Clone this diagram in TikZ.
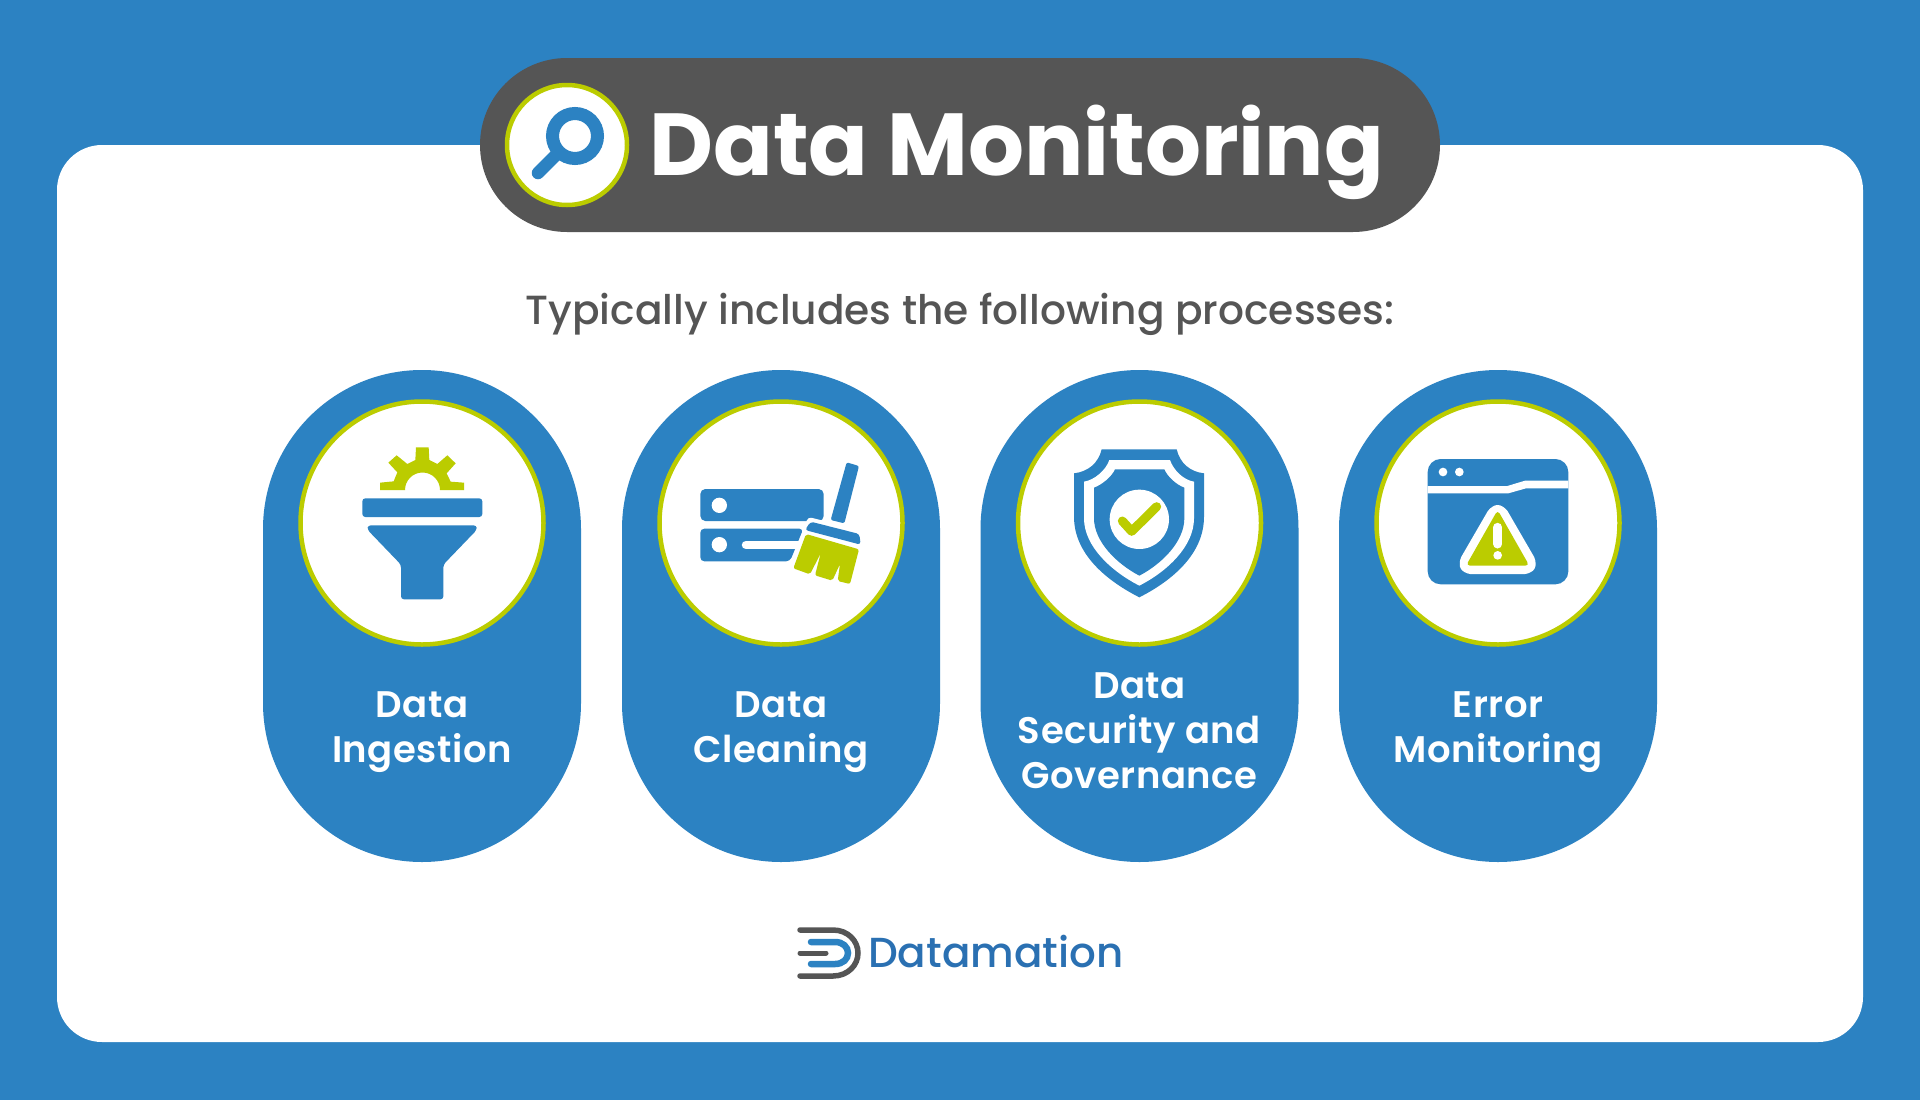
\documentclass[tikz,border=0pt]{standalone}
\usepackage{fontspec}
\setmainfont{Poppins}
\newfontfamily\headfont[LetterSpace=1.5]{Poppins SemiBold}
\newfontfamily\midfont{Poppins Medium}
\usepackage{tikz}
\definecolor{dmblue}{HTML}{2C82C2}
\definecolor{dmgreen}{HTML}{BBCC00}
\definecolor{dmgray}{HTML}{555555}
\definecolor{dmlogo}{HTML}{2A70B2}
\tikzset{
  ringdisc/.style={fill=white,draw=dmgreen,line width=4.5pt},
  steplabel/.style={text=white,font=\headfont\fontsize{37}{45}\selectfont,align=center,anchor=center},
  bluefill/.style={fill=dmblue},
  greenfill/.style={fill=dmgreen},
  whitefill/.style={fill=white},
}

\begin{document}
\begin{tikzpicture}[x=1pt, y=-1pt]
      % page and panel
      \fill[dmblue] (0,0) rectangle (1920,1100);
      \fill[white,rounded corners=45pt] (57,145) rectangle (1863,1042);
      \fill[dmgray,rounded corners=87pt] (480,58) rectangle (1440,232);
      \node[ringdisc,circle,minimum size=120pt,inner sep=0pt] (lens) at (567,145) {};
      \draw[dmblue,line width=12.5pt,line cap=round] (575,136) -- (538,173);
      \draw[dmblue,line width=13pt,fill=white] (575,136) circle[radius=22.5];
      \node[text=white,font=\bfseries\fontsize{88}{88}\selectfont,anchor=base west] (title) at (646,175) {Data Monitoring};
      \node[text=dmgray,font=\midfont\fontsize{40.7}{40.7}\selectfont,anchor=base] (subtitle) at (960,324) {Typically includes the following processes:};
      % pills
      \foreach \cx/\lbl/\ly/\nm in {422/{Data\\Ingestion}/732/ingest, 781/{Data\\Cleaning}/732/clean,
          1139.5/{Data\\Security and\\Governance}/731/secure, 1498/{Error\\Monitoring}/732/error} {
        \fill[dmblue,rounded corners=159pt] (\cx-159,370) rectangle (\cx+159,862);
        \node[ringdisc,circle,minimum size=243pt,inner sep=0pt] (disc\nm) at (\cx,523) {};
        \node[steplabel] (label\nm) at (\cx,\ly) {\lbl};
      }
      % funnel icon
      \begin{scope}[shift={(290,390)},scale=1/3]
        \fill[greenfill] (270,300) -- (270,278) -- (311,274) -- (322,247) -- (295,218) -- (320,196) -- (352,222)
          -- (376,210) -- (378,172) -- (416,172) -- (418,210) -- (442,222) -- (472,196) -- (497,220) -- (470,250)
          -- (482,275) -- (522,278) -- (522,300) -- (450,300) arc[start angle=0,end angle=-180,radius=52.5] -- cycle;
        \fill[bluefill,rounded corners=3pt] (217,325) rectangle (577,381);
        \fill[bluefill,rounded corners=3pt] (233,406) -- (560,406) -- (560,420) -- (460,524) -- (460,628)
          -- (333,628) -- (333,524) -- (233,420) -- cycle;
      \end{scope}
      % server and broom icon
      \begin{scope}[shift={(650,390)},scale=1/3]
        \fill[bluefill,rounded corners=5pt] (151,297) rectangle (521,393);
        \fill[bluefill,rounded corners=4pt] (151,416) -- (460,416) -- (420,514) -- (151,514) -- cycle;
        \fill[whitefill] (208,346) circle[radius=23];
        \fill[whitefill] (208,464) circle[radius=23];
        \draw[white,line width=8.5pt,line cap=round] (288,465) -- (470,465);
        \draw[white,line width=8pt,line join=round,fill=white] (482,395) -- (628,432) -- (627,478) -- (600,582)
          -- (430,535) -- (468,432) -- cycle;
        \fill[bluefill,rounded corners=2pt] (590,217) -- (627,228) -- (583,400) -- (542,390) -- cycle;
        \fill[bluefill,rounded corners=3pt] (482,395) -- (628,432) -- (632,464) -- (465,420) -- cycle;
        \fill[greenfill,rounded corners=2pt] (468,432) -- (627,478) -- (600,582) -- (563,573) -- (570,522)
          -- (547,572) -- (495,556) -- (512,490) -- (480,553) -- (430,535) -- cycle;
      \end{scope}
      % shield icon
      \begin{scope}[shift={(1010,390)},scale=1/3]
        \fill[bluefill] (275,178) -- (500,178) .. controls (510,220) and (540,245) .. (582,250) -- (582,380)
          .. controls (582,490) and (490,570) .. (388,622) .. controls (286,570) and (192,490) .. (192,380)
          -- (192,250) .. controls (234,245) and (265,220) .. (275,178) -- cycle;
        \fill[whitefill] (298,210) -- (480,210) .. controls (490,240) and (520,270) .. (552,275) -- (552,385)
          .. controls (552,470) and (470,545) .. (388,587) .. controls (306,545) and (222,470) .. (222,385)
          -- (222,275) .. controls (254,270) and (288,240) .. (298,210) -- cycle;
        \fill[bluefill] (315,238) -- (463,238) .. controls (472,260) and (500,285) .. (523,293) -- (523,385)
          .. controls (523,455) and (455,522) .. (388,557) .. controls (321,522) and (252,455) .. (252,385)
          -- (252,293) .. controls (275,285) and (306,260) .. (315,238) -- cycle;
        \fill[whitefill] (388,388) circle[radius=89];
        \draw[dmgreen,line width=9pt,line cap=round,line join=round] (337,393) -- (365,424) -- (440,350);
      \end{scope}
      % browser warning icon
      \begin{scope}[shift={(1360,390)},scale=1/3]
        \fill[bluefill,rounded corners=13pt] (203,207) rectangle (625,583);
        \fill[whitefill] (203,288) -- (442,288) -- (495,272) -- (625,272) -- (625,295) -- (498,295) -- (445,310)
          -- (203,310) -- cycle;
        \fill[whitefill] (249,246) circle[radius=13];
        \fill[whitefill] (298,246) circle[radius=13];
        \draw[white,line width=17pt,line join=round,rounded corners=5pt,fill=white] (413,363) -- (508,527) -- (318,527) -- cycle;
        \fill[greenfill,rounded corners=4pt] (413,360) -- (508,527) -- (318,527) -- cycle;
        \draw[white,line width=9pt,line cap=round] (413,412) -- (413,462);
        \fill[whitefill] (413,496) circle[radius=13];
      \end{scope}
      % logo
      \draw[dmgray,line width=5.5pt,line cap=round] (800,930) -- (833,930) .. controls (848,930) and (858,941) .. (858,953)
        .. controls (858,965) and (848,976) .. (833,976) -- (800,976);
      \draw[dmblue,line width=6.5pt,line cap=round] (811,942) -- (835,942) .. controls (843,942) and (848,947) .. (848,953)
        .. controls (848,959) and (843,964) .. (835,964) -- (811,964);
      \draw[dmgray,line width=5pt,line cap=round] (800,953) -- (826,953);
      \node[text=dmlogo,font=\midfont\fontsize{42}{42}\selectfont,anchor=base west,inner sep=0pt] (brand) at (868,967) {Datamation};
    \end{tikzpicture}
\end{document}
